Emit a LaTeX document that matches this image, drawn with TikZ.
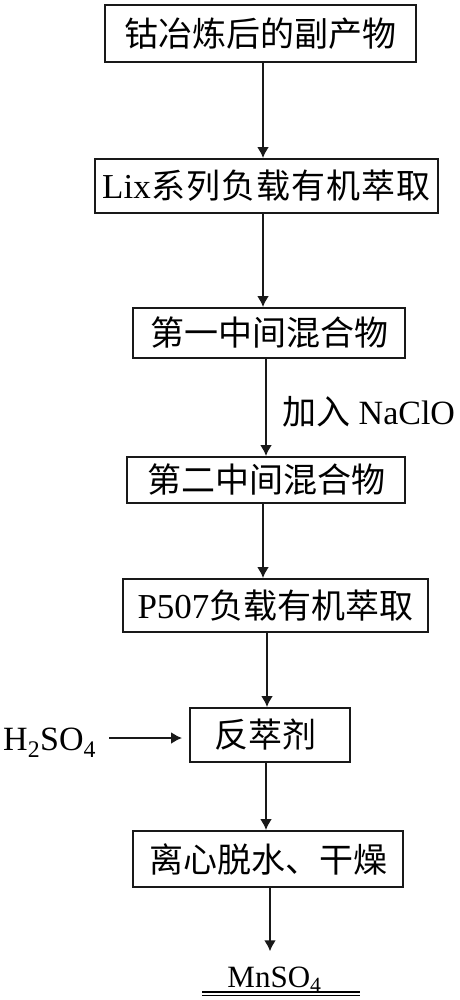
\documentclass[tikz,border=0pt]{standalone}
\usepackage{fontspec}
\setmainfont{Liberation Serif}
\newfontfamily\cjk{Noto Sans CJK SC}
\usetikzlibrary{arrows.meta}
\newcommand\zh[1]{{\cjk\fontsize{34}{40}\selectfont #1}}
\begin{document}
\begin{tikzpicture}[x=1pt,y=-1pt,
  stepbox/.style={draw=black!90, line width=1.9pt, inner sep=0pt, font=\fontsize{35}{40}\selectfont},
  arr/.style={line width=2pt, draw=black!90, -{Latex[width=12pt,length=11pt]}},
  lbl/.style={inner sep=0pt, font=\fontsize{34}{40}\selectfont}]
\useasboundingbox (0,0) rectangle (459,1000);
\node[stepbox, minimum width=311pt, minimum height=57pt] (b1) at (260.5,33.5) {\zh{钴冶炼后的副产物}};
\node[stepbox, minimum width=343pt, minimum height=54pt] (b2) at (266.5,186) {Lix\kern1pt\zh{系\kern1pt 列\kern1pt 负\kern1pt 载\kern1pt 有\kern1pt 机\kern1pt 萃\kern1pt 取}};
\node[stepbox, minimum width=272pt, minimum height=50pt] (b3) at (269,333) {\zh{第一中间混合物}};
\node[stepbox, minimum width=278pt, minimum height=46pt] (b4) at (266,480) {\zh{第二中间混合物}};
\node[stepbox, minimum width=305pt, minimum height=53pt] (b5) at (275.5,605.5) {P507\zh{负载有机萃取}};
\node[stepbox, minimum width=160pt, minimum height=54pt] (b6) at (270,735) {\kern-10pt\zh{反萃剂}};
\node[stepbox, minimum width=270pt, minimum height=56pt] (b7) at (268,859) {\zh{离心脱水、干燥}};
\node[lbl, anchor=west] (na) at (282,412) {\zh{加入} NaClO};
\node[lbl, anchor=base west] (h) at (3,750) {H\textsubscript{2}SO\textsubscript{4}};
\node[lbl, anchor=base, font=\fontsize{31}{36}\selectfont] (m) at (274.5,987) {MnSO\textsubscript{4}};
\coordinate (xa) at (263,0);
\coordinate (xb) at (266,0);
\coordinate (xc) at (267,0);
\coordinate (xd) at (270,0);
\coordinate (ya) at (0,738);
\coordinate (u1l) at (202,992);
\coordinate (u1r) at (360,992);
\coordinate (u2l) at (202,995.5);
\coordinate (u2r) at (360,995.5);
\draw[arr] (b1.south -| xa) -- (b2.north -| xa);
\draw[arr] (b2.south -| xa) -- (b3.north -| xa);
\draw[arr] (b3.south -| xb) -- (b4.north -| xb);
\draw[arr] (b4.south -| xa) -- (b5.north -| xa);
\draw[arr] (b5.south -| xc) -- (b6.north -| xc);
\draw[arr] (b6.south -| xb) -- (b7.north -| xb);
\draw[arr, shorten >=15pt] (b7.south -| xd) -- (m.north -| xd);
\draw[arr, shorten <=13pt, shorten >=7pt] (h.east |- ya) -- (b6.west |- ya);
\draw[line width=1.4pt] (u1l) -- (u1r);
\draw[line width=1.4pt] (u2l) -- (u2r);
\end{tikzpicture}
\end{document}
